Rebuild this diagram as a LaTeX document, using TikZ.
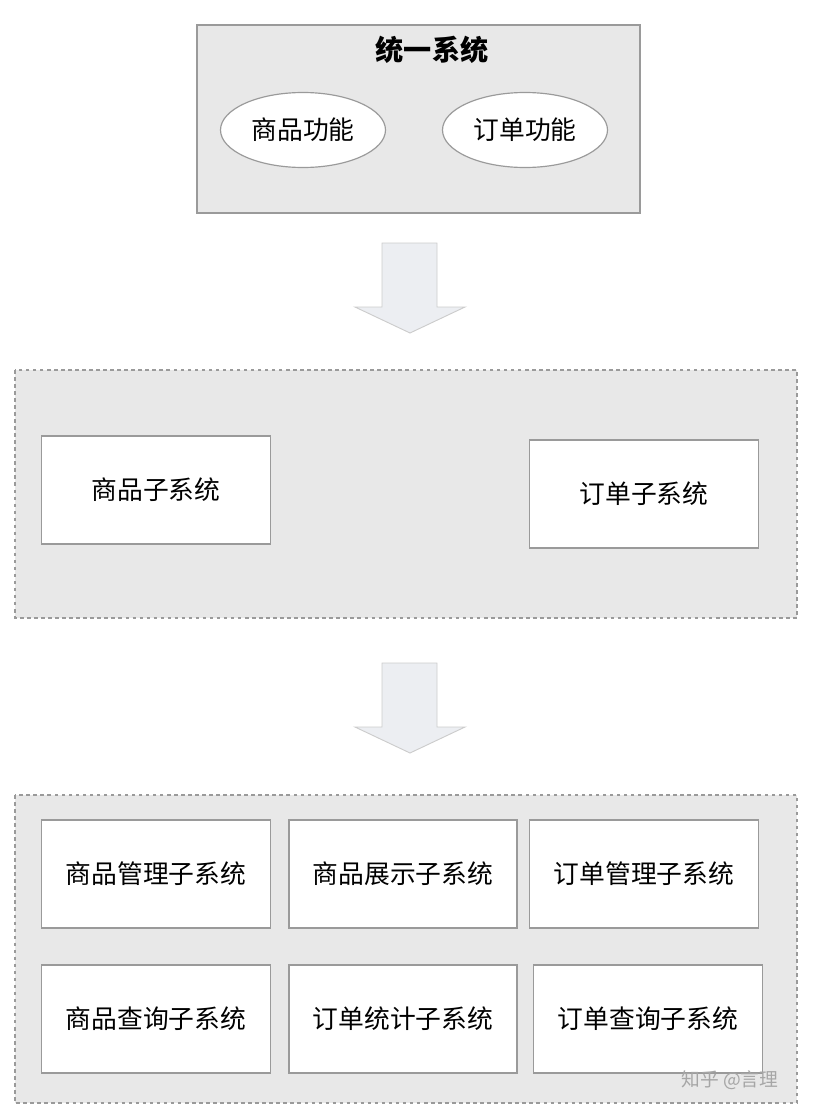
\documentclass[tikz,border=0pt]{standalone}
\usepackage{fontspec}
\newfontfamily\cjk{Noto Sans CJK SC}
\usetikzlibrary{shapes.geometric}
\definecolor{panelgray}{HTML}{E8E8E8}
\definecolor{arrowgray}{HTML}{ECEEF2}
\definecolor{edgegray}{HTML}{9A9A9A}
\tikzset{
  sysbox/.style={draw=edgegray, fill=white, line width=1pt, minimum width=6.87cm,
    minimum height=3.24cm, font=\cjk\fontsize{22}{24}\selectfont},
  funcell/.style={ellipse, draw=edgegray, fill=white, line width=1pt, minimum width=4.95cm,
    minimum height=2.25cm, font=\cjk\fontsize{22}{24}\selectfont},
}
\begin{document}
\begin{tikzpicture}[x=0.03cm, y=-0.03cm]
  \useasboundingbox (0,0) rectangle (816,1114);
  % unified system
  \draw [draw=edgegray, fill=panelgray, line width=1pt] (197,25) rectangle (640,213);
  \node [font=\cjk\bfseries\fontsize{24}{26}\selectfont] (title) at (432,50) {统一系统};
  \node [funcell] (goodsfn) at (303,130) {商品功能};
  \node [funcell] (orderfn) at (525,130) {订单功能};
  % arrows
  \foreach \y in {243,663} {
    \draw [draw=gray!40, fill=arrowgray, line width=0.8pt]
      (382,\y) -- (437,\y) -- (437,\y+64) -- (465,\y+64) -- (410,\y+90)
      -- (355,\y+64) -- (382,\y+64) -- cycle;
  }
  % split into two subsystems
  \draw [draw=edgegray, fill=panelgray, dashed, line width=1pt] (15,370) rectangle (797,618);
  \node [sysbox, minimum width=6.87cm] (goodssys) at (156,490) {商品子系统};
  \node [sysbox] (ordersys) at (644,494) {订单子系统};
  % split further
  \draw [draw=edgegray, fill=panelgray, dashed, line width=1pt] (15,795) rectangle (797,1103);
  \node [sysbox] (goodsmgr) at (156,874) {商品管理子系统};
  \node [sysbox, minimum width=6.84cm] (goodsshow) at (403,874) {商品展示子系统};
  \node [sysbox] (ordermgr) at (644,874) {订单管理子系统};
  \node [sysbox] (goodsquery) at (156,1019) {商品查询子系统};
  \node [sysbox, minimum width=6.84cm] (orderstat) at (403,1019) {订单统计子系统};
  \node [sysbox] (orderquery) at (648,1019) {订单查询子系统};
  \node [font=\cjk\fontsize{16}{18}\selectfont, text=gray!70] (mark) at (730,1080) {知乎 @言理};
\end{tikzpicture}
\end{document}
